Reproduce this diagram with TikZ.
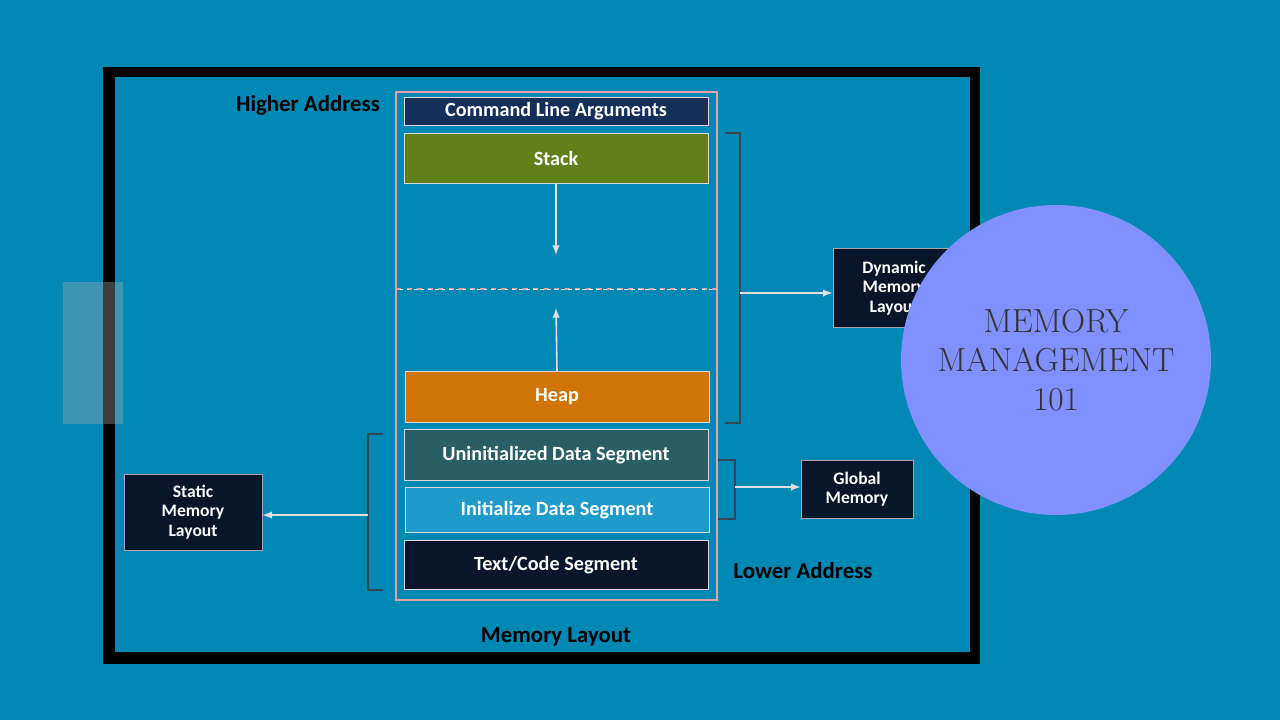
\documentclass[tikz,border=0pt]{standalone}
\usepackage{fontspec}
\setmainfont{Carlito}
\newfontfamily\titlefont{Latin Modern Roman}
\usetikzlibrary{positioning}
\definecolor{bgblue}{RGB}{0,136,180}
\definecolor{cmdblue}{RGB}{20,48,90}
\definecolor{stackgreen}{RGB}{98,128,26}
\definecolor{heaporange}{RGB}{208,117,5}
\definecolor{uninitteal}{RGB}{42,94,102}
\definecolor{initblue}{RGB}{30,154,203}
\definecolor{textnavy}{RGB}{8,21,42}
\definecolor{circleblue}{RGB}{128,144,255}
\definecolor{colborder}{RGB}{230,160,170}

\tikzset{
  seg/.style={draw=white!70!gray, line width=0.5pt, minimum width=6.08cm, inner sep=0pt,
    text=white, font=\bfseries\fontsize{11.5}{13}\selectfont},
  side/.style={fill=textnavy, draw=gray!70, line width=0.4pt, inner sep=0pt, align=center,
    text=white, font=\bfseries\fontsize{10}{11}\selectfont},
  lbl/.style={text=black, font=\bfseries\fontsize{13}{15}\selectfont},
  brk/.style={draw=textnavy!80, line width=0.9pt},
  arr/.style={draw=white!75!gray, line width=0.9pt, -latex}
}

\begin{document}
\begin{tikzpicture}[x=0.02cm, y=-0.02cm]
  \useasboundingbox (0,0) rectangle (1280,720);
  \fill[bgblue] (0,0) rectangle (1280,720);
  % frame
  \fill[black] (103,67) rectangle (980,664);
  \fill[bgblue] (115,77) rectangle (970,652);
  \fill[gray!60!white, opacity=0.35] (63,282) rectangle (123,424);

  % memory column
  \draw[colborder, line width=0.8pt] (396,92) rectangle (717,600);
  \draw[colborder, line width=0.8pt, dashed] (396,289) -- (717,289);
  \draw[white, line width=0.5pt, dash pattern=on 2pt off 2pt, dash phase=2pt] (396,289) -- (717,289);

  \node[seg, fill=cmdblue, minimum height=0.56cm] (cmd) at (556,111) {Command Line Arguments};
  \node[seg, fill=stackgreen, minimum height=1cm] (stack) at (556,158) {Stack};
  \node[seg, fill=heaporange, minimum height=1.02cm] (heap) at (557,397) {Heap};
  \node[seg, fill=uninitteal, minimum height=1.02cm] (bss) at (556,455) {Uninitialized Data Segment};
  \node[seg, fill=initblue, minimum height=0.9cm] (data) at (557,510) {Initialize Data Segment};
  \node[seg, fill=textnavy, minimum height=0.98cm] (code) at (556,565) {Text/Code Segment};

  \coordinate (stackend) at (556,255);
  \coordinate (heapend) at (556,308);
  \draw[arr] (stack.south) -- (stackend);
  \draw[arr] (heap.north) -- (heapend);

  % side boxes
  \node[side, minimum width=2.44cm, minimum height=1.58cm] (dyn) at (894,288) {Dynamic\\Memory\\Layout};
  \node[side, minimum width=2.24cm, minimum height=1.16cm] (glob) at (857,489) {Global\\Memory};
  \node[side, minimum width=2.76cm, minimum height=1.52cm] (stat) at (193,512) {Static\\Memory\\Layout};

  % brackets
  \draw[brk] (725,133) -- (740,133) -- (740,423) -- (725,423);
  \coordinate (dynfork) at (740,293);
  \draw[arr] (dynfork) -- (dynfork -| dyn.west);
  \draw[brk] (718,460) -- (735,460) -- (735,519) -- (718,519);
  \coordinate (globfork) at (735,487);
  \draw[arr] (globfork) -- (globfork -| glob.west);
  \draw[brk] (383,434) -- (368,434) -- (368,590) -- (383,590);
  \coordinate (statfork) at (368,515);
  \draw[arr] (statfork) -- (statfork -| stat.east);

  % labels
  \node[lbl] (high) at (308,105) {Higher Address};
  \node[lbl] (low) at (803,571) {Lower Address};
  \node[lbl] (title) at (556,637) {Memory Layout};

  % badge
  \fill[circleblue] (1056,360) circle (155);
  \node[align=center, text=black!80, font=\titlefont\fontsize{19}{22}\selectfont] (badge) at (1056,360) {MEMORY\\MANAGEMENT\\101};
\end{tikzpicture}
\end{document}
